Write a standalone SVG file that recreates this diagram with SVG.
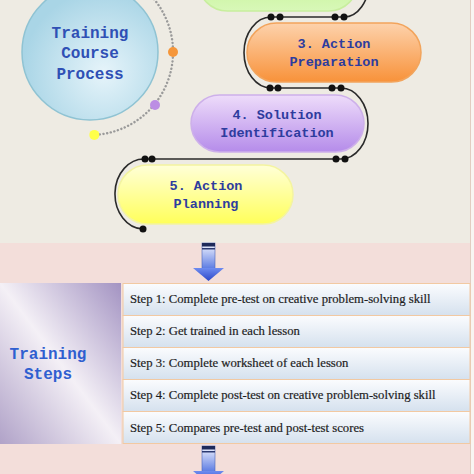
<svg xmlns="http://www.w3.org/2000/svg" width="474" height="474" viewBox="0 0 474 474">
<defs>
<radialGradient id="gCircle" cx="0.6" cy="0.65" r="0.6">
<stop offset="0" stop-color="#E6F4FA"/>
<stop offset="1" stop-color="#A9D5E6"/>
</radialGradient>
<linearGradient id="gGreen" x1="0" y1="0" x2="0" y2="1">
<stop offset="0" stop-color="#B8F080"/>
<stop offset="1" stop-color="#D8F8B8"/>
</linearGradient>
<linearGradient id="gOrange" x1="0" y1="0" x2="0" y2="1">
<stop offset="0" stop-color="#FDD2AC"/>
<stop offset="1" stop-color="#F8923A"/>
</linearGradient>
<linearGradient id="gPurple" x1="0" y1="0" x2="0" y2="1">
<stop offset="0" stop-color="#EEDCFA"/>
<stop offset="1" stop-color="#B58CEA"/>
</linearGradient>
<linearGradient id="gYellow" x1="0" y1="0" x2="0" y2="1">
<stop offset="0" stop-color="#FFFFD8"/>
<stop offset="1" stop-color="#FFFF5A"/>
</linearGradient>
<linearGradient id="gBox" x1="1" y1="0" x2="0" y2="1">
<stop offset="0" stop-color="#A393C2"/>
<stop offset="0.5" stop-color="#F4F0F6"/>
<stop offset="1" stop-color="#B0A2C8"/>
</linearGradient>
<linearGradient id="gRow" x1="0" y1="0" x2="0" y2="1">
<stop offset="0" stop-color="#FBFCFE"/>
<stop offset="1" stop-color="#D5E1EE"/>
</linearGradient>
<linearGradient id="gBar" x1="0" y1="0" x2="0" y2="1">
<stop offset="0" stop-color="#F4F6FF"/>
<stop offset="1" stop-color="#5A7AE2"/>
</linearGradient>
<linearGradient id="gHead" x1="0" y1="0" x2="0" y2="1">
<stop offset="0" stop-color="#6E8CF0"/>
<stop offset="1" stop-color="#2C48C8"/>
</linearGradient>
<g id="arrow">
<rect x="202" y="0" width="13" height="26" fill="url(#gBar)" stroke="#4A64B8" stroke-width="0.6"/>
<rect x="202" y="0" width="13" height="3.5" fill="#1E2A5A"/>
<rect x="202" y="5" width="13" height="1.5" fill="#2A3870"/>
<polygon points="193,25 224,25 208.5,38" fill="url(#gHead)"/>
</g>
</defs>
<style>
.bg1{fill:#EEEBE3}
.bg2{fill:#F3DEDA}
.conn{fill:none;stroke:#2A2A2A;stroke-width:1.6}
.dot{fill:#111}
.pill{stroke-width:1.5}
.ptxt{font-family:"Liberation Mono","Courier New",monospace;font-weight:bold;font-size:13.5px;fill:#2E3C9E;text-anchor:middle}
.ctxt{font-family:"Liberation Mono","Courier New",monospace;font-weight:bold;font-size:16px;fill:#2F50B5;text-anchor:middle}
.stxt{font-family:"Liberation Mono","Courier New",monospace;font-weight:bold;font-size:16px;fill:#2F5FD0;text-anchor:middle}
.row{fill:url(#gRow);stroke:#F2C9A2;stroke-width:1}
.rtxt{font-family:"Liberation Serif","Times New Roman",serif;font-size:12.7px;fill:#1E1E1E;stroke:#1E1E1E;stroke-width:0.2}
</style>
<rect class="bg1" x="0" y="0" width="474" height="243"/>
<rect class="bg2" x="0" y="243" width="474" height="231"/>
<rect x="471" y="0" width="3" height="474" fill="#F8F5F2"/>
<line x1="470.5" y1="0" x2="470.5" y2="474" stroke="#E2CCC0" stroke-width="1"/>

<g id="process-circle">
<circle cx="90" cy="52" r="68" fill="url(#gCircle)" stroke="#8FC3D3" stroke-width="1.5"/>
<text class="ctxt" x="90" y="38">Training</text>
<text class="ctxt" x="90" y="58">Course</text>
<text class="ctxt" x="90" y="79">Process</text>
</g>
<g id="dotted-arc">
<path d="M131.5,-19.9 A83,83 0 0 1 94.3,134.9" fill="none" stroke="#9A9A9A" stroke-width="2.4" stroke-linecap="round" stroke-dasharray="0.1 3.6"/>
<circle cx="173" cy="52" r="5" fill="#F5963A"/>
<circle cx="155" cy="105" r="5" fill="#BC8DE3"/>
<circle cx="94.3" cy="134.9" r="5" fill="#FFFF4A"/>
</g>

<g id="connectors">
<path class="conn" d="M344,-53 A25,35 0 0 1 344,17 L271,17 A27,35.5 0 0 0 271,88 L341,88 A27,35.5 0 0 1 341,159 L145,159 A29,35 0 0 0 143,229"/>
<circle class="dot" cx="271" cy="17" r="3.5"/>
<circle class="dot" cx="280" cy="17" r="3.5"/>
<circle class="dot" cx="335" cy="17" r="3.5"/>
<circle class="dot" cx="344" cy="17" r="3.5"/>
<circle class="dot" cx="270" cy="88" r="3.5"/>
<circle class="dot" cx="278" cy="88" r="3.5"/>
<circle class="dot" cx="332" cy="88" r="3.5"/>
<circle class="dot" cx="341" cy="88" r="3.5"/>
<circle class="dot" cx="145" cy="159" r="3.5"/>
<circle class="dot" cx="152" cy="159" r="3.5"/>
<circle class="dot" cx="336" cy="159" r="3.5"/>
<circle class="dot" cx="345" cy="159" r="3.5"/>
<circle class="dot" cx="143" cy="229" r="3.5"/>
</g>

<g id="step2-pill">
<rect class="pill" x="198" y="-48" width="160" height="59" rx="29.5" fill="url(#gGreen)" stroke="#C8EE9E"/>
</g>
<g id="step3-pill">
<rect class="pill" x="247" y="23" width="174" height="59" rx="29.5" fill="url(#gOrange)" stroke="#F2A45C"/>
<text class="ptxt" x="334" y="48">3. Action</text>
<text class="ptxt" x="334" y="66">Preparation</text>
</g>
<g id="step4-pill">
<rect class="pill" x="191" y="95" width="173" height="57" rx="28.5" fill="url(#gPurple)" stroke="#CDB0EA"/>
<text class="ptxt" x="277" y="119">4. Solution</text>
<text class="ptxt" x="277" y="137">Identification</text>
</g>
<g id="step5-pill">
<rect class="pill" x="118" y="165" width="175" height="59" rx="29.5" fill="url(#gYellow)" stroke="#F4F4A0"/>
<text class="ptxt" x="206" y="190">5. Action</text>
<text class="ptxt" x="206" y="208">Planning</text>
</g>

<g id="arrow-top">
<use href="#arrow" y="243"/>
</g>

<g id="training-steps">
<rect x="0" y="283" width="121" height="161" fill="url(#gBox)"/>
<text class="stxt" x="48" y="359">Training</text>
<text class="stxt" x="48" y="379">Steps</text>
</g>
<g id="steps">
<rect class="row" x="123" y="283.5" width="347" height="32"/>
<text class="rtxt" x="130" y="303">Step 1: Complete pre-test on creative problem-solving skill</text>
<rect class="row" x="123" y="315.5" width="347" height="32"/>
<text class="rtxt" x="130" y="335">Step 2: Get trained in each lesson</text>
<rect class="row" x="123" y="347.5" width="347" height="32"/>
<text class="rtxt" x="130" y="367">Step 3: Complete worksheet of each lesson</text>
<rect class="row" x="123" y="379.5" width="347" height="32"/>
<text class="rtxt" x="130" y="399">Step 4: Complete post-test on creative problem-solving skill</text>
<rect class="row" x="123" y="411.5" width="347" height="32"/>
<text class="rtxt" x="130" y="432">Step 5: Compares pre-test and post-test scores</text>
</g>

<g id="arrow-bottom">
<use href="#arrow" y="446"/>
</g>
</svg>
